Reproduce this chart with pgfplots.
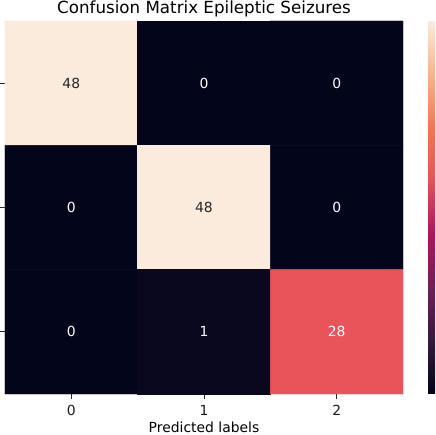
\documentclass[border=0pt]{standalone}
\usepackage{fontspec}
\setmainfont{DejaVu Sans}
\usepackage{pgfplots}
\pgfplotsset{compat=1.18}
\pgfplotsset{
  colormap={rocket}{
    rgb255(0)=(3,5,26)
    rgb255(143)=(53,25,62)
    rgb255(286)=(112,31,87)
    rgb255(429)=(173,23,89)
    rgb255(583)=(233,84,91)
    rgb255(714)=(243,118,81)
    rgb255(857)=(246,180,143)
    rgb255(1000)=(250,235,221)
  }
}
\begin{document}
\begin{tikzpicture}
\path[use as bounding box] (0,0) rectangle (435pt,435pt);
\clip (0,0) rectangle (435pt,435pt);
\begin{axis}[
  at={(5pt,41pt)}, anchor=south west,
  scale only axis, width=398pt, height=373pt,
  xmin=-0.5, xmax=2.5, ymin=-0.5, ymax=2.5,
  y dir=reverse,
  xtick={0,1,2}, ytick={0,1,2},
  xticklabels={0,1,2}, yticklabels={},
  tick align=outside, tick pos=left,
  major tick length=5pt,
  tick style={draw=black!85, line width=0.8pt},
  axis line style={draw=none},
  ticklabel style={font=\fontsize{13.9}{16}\selectfont, text=black!90},
  xticklabel style={anchor=base, yshift=-16pt},
  colormap name=rocket,
  point meta min=0, point meta max=48,
  title={Confusion Matrix Epileptic Seizures},
  every axis title/.style={font=\fontsize{16.7}{19}\selectfont, anchor=base, at={(0.5,1)}, yshift=7.5pt, inner sep=0pt},
  xlabel={Predicted labels},
  every axis x label/.style={font=\fontsize{13.9}{16}\selectfont, anchor=base, at={(0.5,0)}, yshift=-38.5pt, inner sep=0pt},
  colorbar,
  every colorbar/.append style={at={(parent axis.north east)}, anchor=north west, xshift=16.5pt, width=20pt,
    ytick=\empty, axis line style={draw=none}},
]
\addplot[matrix plot*, point meta=explicit, mesh/cols=3, draw=none] table[meta=c] {
x y c
0 0 48
1 0 0
2 0 0
0 1 0
1 1 48
2 1 0
0 2 0
1 2 1
2 2 28
};
\addplot[draw=none, no markers, nodes near coords, point meta=explicit symbolic,
  nodes near coords style={anchor=center, text=white, font=\fontsize{13.9}{16}\selectfont}] table[meta=t] {
x y t
1 0 0
2 0 0
0 1 0
2 1 0
0 2 0
1 2 1
2 2 28
};
\addplot[draw=none, no markers, nodes near coords, point meta=explicit symbolic,
  nodes near coords style={anchor=center, text=black!85, font=\fontsize{13.9}{16}\selectfont}] table[meta=t] {
x y t
0 0 48
1 1 48
};
\end{axis}
\end{tikzpicture}
\end{document}
